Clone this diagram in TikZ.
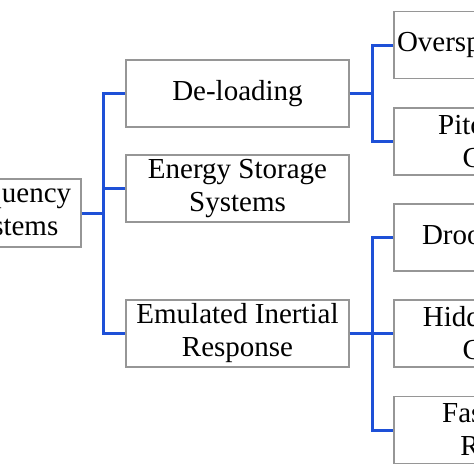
\documentclass[tikz,border=0pt]{standalone}
\usepackage{fontspec}
\setmainfont{Liberation Serif}
\definecolor{boxgray}{RGB}{150,150,150}
\definecolor{linkblue}{RGB}{30,80,215}
\begin{document}
\begin{tikzpicture}[x=1pt,y=-1pt,
  box/.style={draw=boxgray, line width=1.2pt, fill=white, minimum width=223pt,
    minimum height=67pt, inner sep=0pt, align=center,
    font=\fontsize{29}{33}\selectfont},
  link/.style={draw=linkblue, line width=3pt}]
\useasboundingbox (0,0) rectangle (474,474);
\fill[white] (0,0) rectangle (474,474);
\clip (0,0) rectangle (474,474);
% nodes
\node[box, minimum width=142pt, minimum height=68pt] (root) at (10,213) {Frequency\\Systems};
\node[box] (deload) at (237.5,93.5) {De-loading};
\node[box] (ess) at (237.5,188.5) {Energy Storage\\Systems};
\node[box] (eir) at (237.5,333.5) {Emulated Inertial\\Response};
\node[box, minimum width=0pt, text width=220pt, inner xsep=3pt, align=left] (over) at (507,45) {Overspeeding};
\node[box, minimum width=226pt] (pitch) at (507,141.5) {Pitch Angle\\Control};
\node[box, minimum width=226pt] (droop) at (507,237.5) {Droop Control};
\node[box, minimum width=226pt] (hidden) at (507,333.5) {Hidden Inertia\\Control};
\node[box, minimum width=226pt] (fast) at (507,430) {Fast Power\\Reserve};
% trunk coordinates
\coordinate (t1) at (103,0);
\coordinate (t2) at (372,0);
% connectors
\draw[link] (root.east) -- (root.east -| t1);
\draw[link] (deload.west) -- (deload.west -| t1) -- (eir.west -| t1) -- (eir.west);
\draw[link] (ess.west -| t1) -- (ess.west);
\draw[link] (deload.east) -- (deload.east -| t2);
\draw[link] (over.west) -- (over.west -| t2) -- (pitch.west -| t2) -- (pitch.west);
\draw[link] (eir.east) -- (hidden.west);
\draw[link] (droop.west) -- (droop.west -| t2) -- (fast.west -| t2) -- (fast.west);
\end{tikzpicture}
\end{document}
